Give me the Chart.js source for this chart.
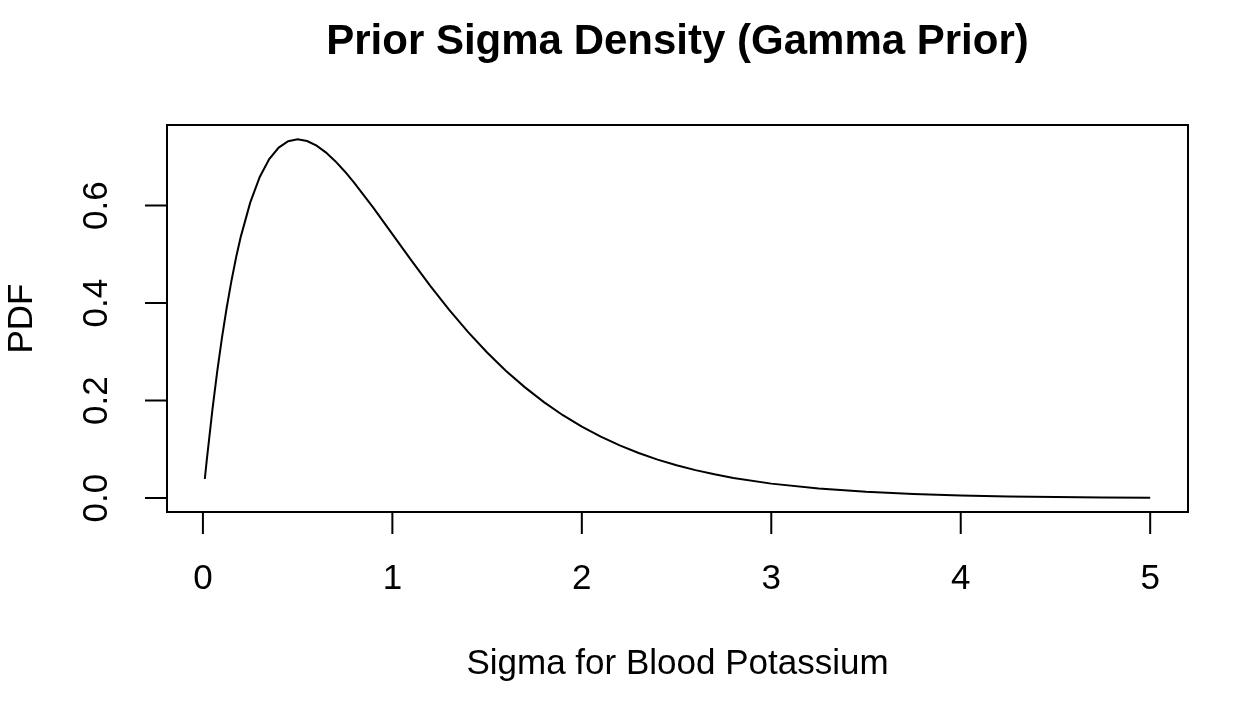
<!DOCTYPE html>
<html lang="en">
<head>
    <meta charset="UTF-8">
    <title>Prior Sigma Density (Gamma Prior)</title>
    <script src="https://cdn.jsdelivr.net/npm/chart.js"></script>
    <style>
        * { margin: 0; padding: 0; box-sizing: border-box; }
        body { background: white; width: 1242px; height: 706px; overflow: hidden; }
        #chart { display: block; }
    </style>
</head>
<body>
    <canvas id="chart" width="1242" height="706"></canvas>

    <script>
        // Values
        const sigmaValues = [0.01, 0.02, 0.05, 0.075, 0.1, 0.125, 0.15, 0.175, 0.2, 0.25, 0.3, 0.35, 0.4, 0.45,
            0.5, 0.55, 0.6, 0.65, 0.7, 0.75, 0.8, 0.9, 1.0, 1.1, 1.2, 1.3, 1.4, 1.5, 1.6, 1.7, 1.8, 1.9,
            2.0, 2.1, 2.2, 2.3, 2.4, 2.5, 2.6, 2.7, 2.8, 3.0, 3.25, 3.5, 3.75, 4.0, 4.25, 4.5, 4.75, 5.0];
        const pdfValues = [0.0392, 0.0769, 0.1810, 0.2582, 0.3275, 0.3894, 0.4445, 0.4933, 0.5363, 0.6065, 0.6586, 0.6952, 0.7189, 0.7318,
            0.7358, 0.7324, 0.7229, 0.7086, 0.6905, 0.6694, 0.6461, 0.5951, 0.5413, 0.4875, 0.4354, 0.3862, 0.3405, 0.2987, 0.2609, 0.2271, 0.1968, 0.1700,
            0.1465, 0.1260, 0.1080, 0.0925, 0.0790, 0.0674, 0.0574, 0.0488, 0.0414, 0.0297, 0.0196, 0.0128, 0.0083, 0.0054, 0.0035, 0.0022, 0.0014, 0.0009];
        const xTicks = [0, 1, 2, 3, 4, 5];
        const yTicks = [0, 0.2, 0.4, 0.6];
        const yTickLabels = ['0.0', '0.2', '0.4', '0.6'];

        const FONT = '"Liberation Sans", Arial, Helvetica, sans-serif';

        // R base-graphics style frame, axes and labels
        const rStyle = {
            id: 'rStyle',
            afterDraw(chart) {
                const ctx = chart.ctx;
                const area = chart.chartArea;
                const xs = chart.scales.x;
                const ys = chart.scales.y;
                const tick = 22;
                ctx.save();
                ctx.strokeStyle = '#000';
                ctx.fillStyle = '#000';
                ctx.lineWidth = 2;

                // box
                ctx.strokeRect(area.left, area.top, area.right - area.left, area.bottom - area.top);

                // x axis
                ctx.beginPath();
                ctx.moveTo(xs.getPixelForValue(xTicks[0]), area.bottom);
                ctx.lineTo(xs.getPixelForValue(xTicks[xTicks.length - 1]), area.bottom);
                xTicks.forEach(v => {
                    const px = xs.getPixelForValue(v);
                    ctx.moveTo(px, area.bottom);
                    ctx.lineTo(px, area.bottom + tick);
                });
                ctx.stroke();
                ctx.font = '35px ' + FONT;
                ctx.textAlign = 'center';
                ctx.textBaseline = 'alphabetic';
                xTicks.forEach(v => ctx.fillText(String(v), xs.getPixelForValue(v), 589));

                // y axis
                ctx.beginPath();
                ctx.moveTo(area.left, ys.getPixelForValue(yTicks[0]));
                ctx.lineTo(area.left, ys.getPixelForValue(yTicks[yTicks.length - 1]));
                yTicks.forEach(v => {
                    const py = ys.getPixelForValue(v);
                    ctx.moveTo(area.left, py);
                    ctx.lineTo(area.left - tick, py);
                });
                ctx.stroke();
                yTicks.forEach((v, i) => {
                    ctx.save();
                    ctx.translate(107, ys.getPixelForValue(v));
                    ctx.rotate(-Math.PI / 2);
                    ctx.fillText(yTickLabels[i], 0, 0);
                    ctx.restore();
                });

                // axis titles
                const cx = (area.left + area.right) / 2;
                const cy = (area.top + area.bottom) / 2;
                ctx.fillText('Sigma for Blood Potassium', cx, 674);
                ctx.save();
                ctx.translate(32, cy);
                ctx.rotate(-Math.PI / 2);
                ctx.fillText('PDF', 0, 0);
                ctx.restore();

                // main title
                ctx.font = 'bold 42px ' + FONT;
                ctx.fillText('Prior Sigma Density (Gamma Prior)', cx, 54);
                ctx.restore();
            }
        };

        new Chart(document.getElementById('chart'), {
            type: 'line',
            data: {
                datasets: [{
                    data: sigmaValues.map((x, i) => ({ x: x, y: pdfValues[i] })),
                    borderColor: '#000',
                    borderWidth: 2,
                    pointRadius: 0,
                    tension: 0,
                    fill: false
                }]
            },
            options: {
                responsive: false,
                animation: false,
                layout: { padding: { left: 167, top: 125, right: 54, bottom: 194 } },
                plugins: {
                    legend: { display: false },
                    title: { display: false },
                    tooltip: { enabled: false }
                },
                scales: {
                    x: { type: 'linear', display: false, min: -0.1896, max: 5.1996 },
                    y: { type: 'linear', display: false, min: -0.0285, max: 0.7652 }
                }
            },
            plugins: [rStyle]
        });
    </script>
</body>
</html>
